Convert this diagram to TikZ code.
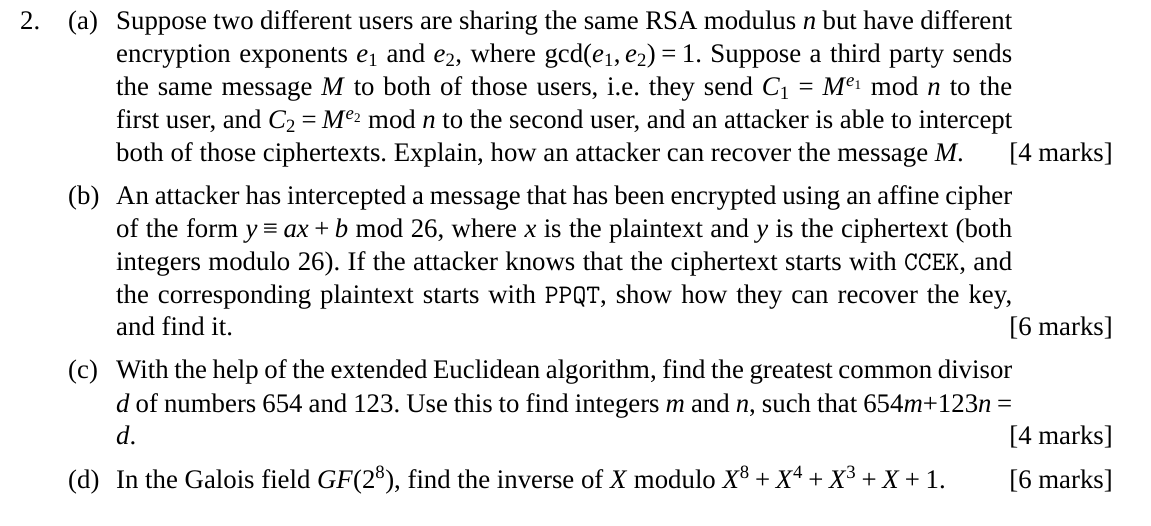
\documentclass[tikz,border=0pt]{standalone}
\usepackage{fontspec}
\setmainfont{Liberation Serif}
\frenchspacing
\newcommand{\mi}[1]{\textit{#1}}
\newcommand{\jl}[1]{\hbox to 896pt{#1}}
\newcommand{\ms}{\hspace{5.5pt}}
\begin{document}
\begin{tikzpicture}[x=1pt,y=1pt,ln/.style={anchor=base west,inner sep=0pt,font=\fontsize{26.8}{30}\selectfont},rt/.style={anchor=base east,inner sep=0pt,font=\fontsize{26.8}{30}\selectfont}]
\useasboundingbox (0,0) rectangle (1151,-526);
\fill[white] (0,0) rectangle (1151,-526);
\node[ln] (n2) at (20,-30) {2.};
\node[ln] (la) at (68,-30) {(a)};
\node[ln] (a1) at (116,-30) {\jl{Suppose two different users are sharing the same RSA modulus \mi{n} but have different}};
\node[ln] (a2) at (116,-63) {\jl{encryption exponents \mi{e}\textsubscript{1} and \mi{e}\textsubscript{2}, where gcd(\mi{e}\textsubscript{1},\,\mi{e}\textsubscript{2})\ms=\ms1. Suppose a third party sends}};
\node[ln] (a3) at (116,-96) {\jl{the same message \mi{M} to both of those users, i.e. they send \mi{C}\textsubscript{1} = \mi{M}\textsuperscript{\mi{e}\textsubscript{1}} mod \mi{n} to the}};
\node[ln] (a4) at (116,-129) {\jl{first user, and \mi{C}\textsubscript{2}\ms=\ms\mi{M}\textsuperscript{\mi{e}\textsubscript{2}} mod \mi{n} to the second user, and an attacker is able to intercept}};
\node[ln] (a5) at (116,-162) {both of those ciphertexts. Explain, how an attacker can recover the message \mi{M}.};
\node[rt] (ma) at (1113,-162) {[4 marks]};
\node[ln] (lb) at (68,-205) {(b)};
\node[ln] (b1) at (116,-205) {\jl{An attacker has intercepted a message that has been encrypted using an affine cipher}};
\node[ln] (b2) at (116,-238) {\jl{of the form \mi{y}\ms≡\ms\mi{ax}\ms+\ms\mi{b} mod 26, where \mi{x} is the plaintext and \mi{y} is the ciphertext (both}};
\node[ln] (b3) at (116,-271) {\jl{integers modulo 26). If the attacker knows that the ciphertext starts with \texttt{CCEK}, and}};
\node[ln] (b4) at (116,-304) {\jl{the corresponding plaintext starts with \texttt{PPQT}, show how they can recover the key,}};
\node[ln] (b5) at (116,-336) {and find it.};
\node[rt] (mb) at (1113,-336) {[6 marks]};
\node[ln] (lc) at (68,-379) {(c)};
\node[ln] (c1) at (116,-379) {\jl{With the help of the extended Euclidean algorithm, find the greatest common divisor}};
\node[ln] (c2) at (116,-412) {\jl{\mi{d} of numbers 654 and 123. Use this to find integers \mi{m} and \mi{n}, such that 654\mi{m}+123\mi{n}\ms=}};
\node[ln] (c3) at (116,-444) {\mi{d}.};
\node[rt] (mc) at (1113,-444) {[4 marks]};
\node[ln] (ld) at (68,-488) {(d)};
\node[ln] (d1) at (116,-488) {In the Galois field \mi{GF}(2\textsuperscript{8}), find the inverse of \mi{X} modulo \mi{X}\textsuperscript{8}\ms+\ms\mi{X}\textsuperscript{4}\ms+\ms\mi{X}\textsuperscript{3}\ms+\ms\mi{X}\ms+\ms1.};
\node[rt] (md) at (1113,-488) {[6 marks]};
\end{tikzpicture}
\end{document}
